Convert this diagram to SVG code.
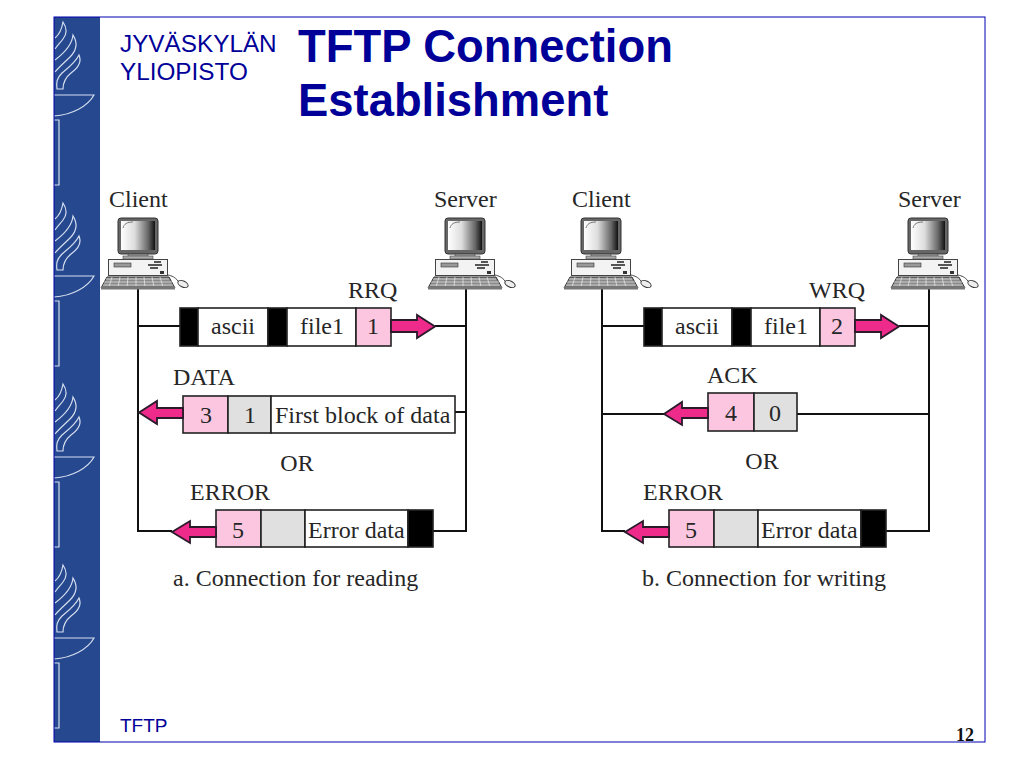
<svg xmlns="http://www.w3.org/2000/svg" xmlns:xlink="http://www.w3.org/1999/xlink" width="1024" height="768" viewBox="0 0 1024 768">
<style>
text{font-family:"Liberation Serif","Times New Roman",serif;font-size:24px;fill:#262626}
.a{font-family:"Liberation Sans",Arial,sans-serif;fill:#000099}
.t{font-size:45.400px;font-weight:bold}
.h{font-size:24.300px}
.m{text-anchor:middle}
.b{fill:#000}
.w{fill:#fff}
.p{fill:#fcc6e0}
.g{fill:#e0e0e0}
.cell{stroke:#222;stroke-width:1.6}
.line{fill:none;stroke:#111;stroke-width:2}
.arr{fill:#ee2a8b;stroke:#2a1a2a;stroke-width:1.8;stroke-linejoin:miter}
.fl{fill:none;stroke:#d5deef;stroke-width:1.2}
</style>
<defs>
<linearGradient id="scr" x1="0" x2="1" y1="0" y2="0"><stop offset="0" stop-color="#fff"/><stop offset=".4" stop-color="#ddd"/><stop offset=".8" stop-color="#666"/><stop offset="1" stop-color="#111"/></linearGradient>
<g id="torch">
<path class="fl" d="M55 38C60 34 62 28 63 22C67 28 67 34 63 39C60 43 57 46 55 49"/>
<path class="fl" d="M55 60C63 54 72 46 73 35C78 43 77 50 70 57C65 62 59 67 55 72"/>
<path class="fl" d="M57 89C56 82 57 78 62 73C68 68 75 63 79 55C82 62 78 68 71 73C66 77 63 82 63 89Z"/>
<path class="fl" d="M54 95H94C88 106 72 115 54 116"/>
<path class="fl" d="M54 120H59V185H54"/>
</g>
<g id="pc">
<rect x="118" y="218" width="40" height="36" rx="3" fill="#666" stroke="#333"/>
<rect x="121" y="221" width="34" height="29" fill="url(#scr)"/>
<path d="M123 228C124 224 127 222 133 222" fill="none" stroke="#777"/>
<rect x="128" y="254" width="20" height="3" fill="#999" stroke="#444" stroke-width=".6"/>
<rect x="123" y="256" width="30" height="3" fill="#aaa" stroke="#444" stroke-width=".6"/>
<rect x="108.500" y="259.500" width="59" height="16" fill="#f3f3f3" stroke="#444"/>
<rect x="114" y="263" width="17" height="4" fill="#999" stroke="#333" stroke-width=".6"/>
<path d="M148 265H162M154 262H161M150 268H158" stroke="#222" stroke-width="1.300" fill="none"/>
<rect x="160" y="271" width="4" height="3" fill="#333"/>
<path d="M107 277H169L175 288H101Z" fill="#888" stroke="#333"/>
<path d="M106 279H169M104 282H172M103 285H173M112 277L109 287M120 277L118 287M128 277L127 287M136 277L136 287M144 277L145 287M152 277L154 287M160 277L163 287" stroke="#eee" stroke-width=".7" fill="none"/>
<rect x="101" y="286" width="74" height="3.500" fill="#777"/>
<path d="M168 275C172 276 175 277 178 281" fill="none" stroke="#444"/>
<ellipse cx="183" cy="284" rx="5.500" ry="3" transform="rotate(25 183 284)" fill="#eee" stroke="#333"/>
</g>
<g id="rq">
<rect class="cell b" x="180" y="308" width="18" height="38"/>
<rect class="cell w" x="198" y="308" width="70" height="38"/>
<rect class="cell b" x="268" y="308" width="19" height="38"/>
<rect class="cell w" x="287" y="308" width="69" height="38"/>
<rect class="cell p" x="356" y="308" width="35" height="38"/>
<path class="arr" d="M391 320H417V315L435 326.500L417 338V332H391Z"/>
<text class="m" x="233" y="334">ascii</text>
<text class="m" x="322" y="334">file1</text>
</g>
</defs>

<rect width="1024" height="768" fill="#fff"/>
<g id="sidebar">
<rect x="54" y="17" width="46" height="725" fill="#26488f"/>
<use href="#torch"/>
<use href="#torch" y="181"/>
<use href="#torch" y="362"/>
<use href="#torch" y="543"/>
</g>
<rect id="frame" x="54" y="17" width="931" height="725" fill="none" stroke="#0000b0" stroke-width="1"/>

<g id="header">
<text class="a h" x="120" y="52">JYVÄSKYLÄN</text>
<text class="a h" x="120" y="80">YLIOPISTO</text>
<text class="a t" x="298" y="62">TFTP Connection</text>
<text class="a t" x="298" y="116">Establishment</text>
</g>

<g id="connectors">
<path class="line" d="M138 289V531H172M466 289V531H433M138 326H180M435 326H466M455 412H466"/>
<path class="line" d="M602 289V531H625M929 289V531H886M602 326H644M899 326H929M602 414H664M797 414H929"/>
</g>

<g id="client-a"><text x="109" y="207">Client</text><use href="#pc"/></g>
<g id="server-a"><text x="434" y="207">Server</text><use href="#pc" x="327"/></g>
<g id="client-b"><text x="572" y="207">Client</text><use href="#pc" x="463"/></g>
<g id="server-b"><text x="898" y="207">Server</text><use href="#pc" x="790"/></g>

<g id="rrq">
<text x="348" y="298">RRQ</text>
<use href="#rq"/>
<text class="m" x="373" y="334">1</text>
</g>
<g id="data">
<text x="173" y="385">DATA</text>
<rect class="cell p" x="183" y="396" width="45" height="37"/>
<rect class="cell g" x="228" y="396" width="43" height="37"/>
<rect class="cell w" x="271" y="396" width="184" height="37"/>
<path class="arr" d="M183 408H157V401L139 412.500L157 424V418H183Z"/>
<text class="m" x="206" y="423">3</text>
<text class="m" x="250" y="423">1</text>
<text x="275" y="423">First block of data</text>
</g>
<text id="or-a" class="m" x="297" y="471">OR</text>
<g id="error-a">
<text x="190" y="500">ERROR</text>
<rect class="cell p" x="216" y="510" width="45" height="37"/>
<rect class="cell g" x="261" y="510" width="44" height="37"/>
<rect class="cell w" x="305" y="510" width="103" height="37"/>
<rect class="cell b" x="408" y="510" width="25" height="37"/>
<path class="arr" d="M216 527H190V521L172 532L190 543V537H216Z"/>
<text class="m" x="238" y="538">5</text>
<text x="308" y="538">Error data</text>
</g>
<text id="caption-a" x="173" y="586">a. Connection for reading</text>

<g id="wrq">
<text x="809" y="298">WRQ</text>
<use href="#rq" x="464"/>
<text class="m" x="837" y="334">2</text>
</g>
<g id="ack">
<text x="707" y="383">ACK</text>
<rect class="cell p" x="708" y="393" width="46" height="38"/>
<rect class="cell g" x="754" y="393" width="43" height="38"/>
<path class="arr" d="M708 408H682V402L664 414L682 425V418H708Z"/>
<text class="m" x="731" y="421">4</text>
<text class="m" x="775" y="421">0</text>
</g>
<text id="or-b" class="m" x="762" y="469">OR</text>
<g id="error-b">
<text x="643" y="500">ERROR</text>
<rect class="cell p" x="669" y="510" width="45" height="37"/>
<rect class="cell g" x="714" y="510" width="44" height="37"/>
<rect class="cell w" x="758" y="510" width="103" height="37"/>
<rect class="cell b" x="861" y="510" width="25" height="37"/>
<path class="arr" d="M669 527H643V521L625 532L643 543V537H669Z"/>
<text class="m" x="691" y="538">5</text>
<text x="761" y="538">Error data</text>
</g>
<text id="caption-b" x="642" y="586">b. Connection for writing</text>

<g id="footer">
<text class="a" style="font-size:19px" x="120" y="732">TFTP</text>
<text x="956" y="741" style="font-size:18px;font-weight:bold;fill:#111">12</text>
</g>
</svg>
